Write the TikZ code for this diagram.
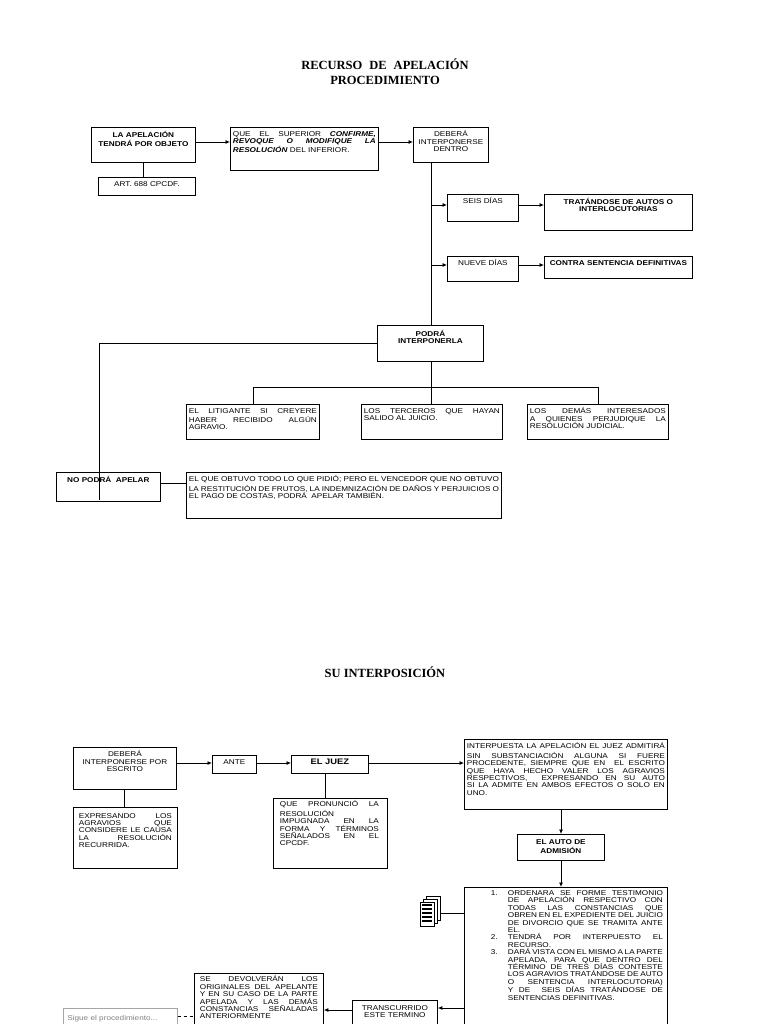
\documentclass[tikz,border=0pt]{standalone}
\usepackage{fontspec}
\setmainfont[FakeStretch=1.17]{Liberation Sans}
\newfontfamily\serifb{Liberation Serif}
\usetikzlibrary{arrows.meta}
\newcommand\bx[7]{\node[box] (#1) at (#2,#3) {\parbox[t][\dimexpr#5pt-5pt\relax][t]{\dimexpr#4pt-5pt\relax}{#6\strut#7}};}
\begin{document}
\begin{tikzpicture}[x=1pt,y=-1pt,
  box/.style={draw,line width=0.8pt,inner sep=2.5pt,anchor=north west,font=\fontsize{7}{7.4}\selectfont},
  ln/.style={line width=0.8pt},
  arr/.style={line width=0.8pt,-{Latex[length=4.5pt,width=4pt]}},
  ttl/.style={font=\serifb\bfseries\fontsize{12.5}{15}\selectfont,align=center}]
\useasboundingbox (0,0) rectangle (768,1024);
\clip (0,0) rectangle (768,1024);
\hyphenpenalty=10000 \emergencystretch=20pt
\node[ttl] (t1) at (385,72) {RECURSO\hspace{7pt}DE\hspace{7pt}APELACIÓN\\PROCEDIMIENTO};
% top part
\bx{a}{91}{127}{104}{35}{\centering\bfseries\vspace{1pt}}{LA APELACIÓN\\TENDRÁ POR OBJETO}
\bx{art}{98}{177}{97}{18}{\centering\vspace{1pt}}{ART. 688 CPCDF.}
\bx{b}{230}{127}{148}{43}{\vspace{1pt}}{QUE EL SUPERIOR \textbf{\textit{CONFIRME, REVOQUE O MODIFIQUE LA RESOLUCIÓN}} DEL INFERIOR.}
\bx{c}{413}{127}{75}{35}{\centering\vspace{1pt}}{DEBERÁ\\INTERPONERSE\\DENTRO}
\bx{seis}{447}{194}{71}{27}{\centering\vspace{1pt}}{SEIS DÍAS}
\bx{trat}{544}{194}{148}{36}{\centering\bfseries\vspace{1pt}}{TRATÁNDOSE DE AUTOS O\\INTERLOCUTORIAS}
\bx{nueve}{447}{256}{71}{25}{\centering\vspace{1pt}}{NUEVE DÍAS}
\bx{contra}{544}{256}{148}{22}{\centering\bfseries\vspace{1pt}}{CONTRA SENTENCIA DEFINITIVAS}
\bx{podra}{377}{325}{106}{36}{\centering\bfseries\vspace{2pt}}{PODRÁ\\INTERPONERLA}
\bx{lit}{186}{404}{133}{35}{\vspace{1pt}}{EL LITIGANTE SI CREYERE HABER RECIBIDO ALGÚN AGRAVIO.}
\bx{ter}{361}{404}{141}{35}{\vspace{1pt}}{LOS TERCEROS QUE HAYAN SALIDO AL JUICIO.}
\bx{dem}{527}{404}{141}{35}{\vspace{1pt}}{LOS DEMÁS INTERESADOS A QUIENES PERJUDIQUE LA RESOLUCIÓN JUDICIAL.}
\bx{nop}{56}{472}{104}{29}{\centering\bfseries\vspace{1pt}}{NO PODRÁ\ \ APELAR}
\bx{elq}{186}{472}{315}{46}{\vspace{1pt}}{EL QUE OBTUVO TODO LO QUE PIDIÓ; PERO EL VENCEDOR QUE NO OBTUVO LA RESTITUCIÓN DE FRUTOS, LA INDEMNIZACIÓN DE DAÑOS Y PERJUICIOS O EL PAGO DE COSTAS, PODRÁ\ \ APELAR TAMBIÉN.}
\coordinate (v) at (431,0);
\coordinate (l) at (99,0);
\draw[ln] (a.south) -- (art.north -| a.south);
\draw[arr] (a.east |- 0,142) -- (b.west |- 0,142);
\draw[arr] (b.east |- 0,142) -- (c.west |- 0,142);
\draw[ln] (v |- c.south) -- (v |- podra.north);
\draw[arr] (v |- 0,205) -- (seis.west |- 0,205);
\draw[arr] (v |- 0,265) -- (nueve.west |- 0,265);
\draw[arr] (seis.east |- 0,205) -- (trat.west |- 0,205);
\draw[arr] (nueve.east |- 0,265) -- (contra.west |- 0,265);
\draw[ln] (podra.west |- 0,343) -- (l |- 0,343) -- (l |- 0,500);
\draw[ln] (v |- podra.south) -- (v |- ter.north);
\draw[ln] (lit.north |- 0,387) -- (dem.north |- 0,387);
\draw[ln] (lit.north |- 0,387) -- (lit.north);
\draw[ln] (dem.north |- 0,387) -- (dem.north);
\draw[ln] (nop.east |- 0,483) -- (elq.west |- 0,483);
% second part
\node[ttl] (t2) at (385,672) {SU INTERPOSICIÓN};
\bx{deb}{73}{747}{103}{42}{\centering\vspace{1pt}}{DEBERÁ\\INTERPONERSE POR\\ESCRITO}
\bx{ante}{212}{755}{44}{18}{\centering\vspace{1pt}}{ANTE}
\bx{juez}{291}{755}{77}{18}{\centering\bfseries\fontsize{8}{8}\selectfont\vspace{1pt}}{EL JUEZ}
\bx{inter}{464}{739}{203}{70}{\vspace{1pt}}{INTERPUESTA LA APELACIÓN EL JUEZ ADMITIRÁ SIN SUBSTANCIACIÓN ALGUNA SI FUERE PROCEDENTE, SIEMPRE QUE EN\ \ EL ESCRITO QUE HAYA HECHO VALER LOS AGRAVIOS RESPECTIVOS,\ \ EXPRESANDO EN SU AUTO SI LA ADMITE EN AMBOS EFECTOS O SOLO EN UNO.}
\bx{expr}{73}{807}{104}{61}{\vspace{3pt}\leftskip=3pt\rightskip=3pt}{EXPRESANDO LOS AGRAVIOS QUE CONSIDERE LE CAUSA LA RESOLUCIÓN RECURRIDA.}
\bx{pron}{273}{798}{114}{70}{\leftskip=4pt\rightskip=6pt}{QUE PRONUNCIÓ LA RESOLUCIÓN\\ IMPUGNADA EN LA FORMA Y TÉRMINOS SEÑALADOS EN EL CPCDF.}
\bx{auto}{517}{834}{87}{26}{\centering\bfseries\vspace{2pt}}{EL AUTO DE\\ADMISIÓN}
\bx{lista}{464}{887}{203}{160}{\leftskip=41pt\rightskip=2pt\vspace{-7pt}}{\par
\noindent\llap{\makebox[17pt][l]{1.}}ORDENARA SE FORME TESTIMONIO DE APELACIÓN RESPECTIVO CON TODAS LAS CONSTANCIAS QUE OBREN EN EL EXPEDIENTE DEL JUICIO DE DIVORCIO QUE SE TRAMITA ANTE\ \ EL.\par
\noindent\llap{\makebox[17pt][l]{2.}}TENDRÁ POR INTERPUESTO EL RECURSO.\par
\noindent\llap{\makebox[17pt][l]{3.}}DARÁ VISTA CON EL MISMO A LA PARTE APELADA, PARA QUE DENTRO DEL TÉRMINO DE TRES DÍAS CONTESTE LOS AGRAVIOS TRATÁNDOSE DE AUTO O SENTENCIA INTERLOCUTORIA) Y DE\ \ SEIS DÍAS TRATÁNDOSE DE SENTENCIAS DEFINITIVAS.}
\bx{trans}{352}{1000}{85}{40}{\centering\vspace{2pt}}{TRANSCURRIDO\\ESTE TERMINO}
\bx{sedev}{194}{973}{129}{70}{\leftskip=3pt\rightskip=3pt}{SE DEVOLVERÁN LOS ORIGINALES DEL APELANTE Y EN SU CASO DE LA PARTE APELADA Y LAS DEMÁS CONSTANCIAS SEÑALADAS ANTERIORMENTE}
\node[box,draw=gray!70,line width=0.5pt,text=gray,minimum width=114pt,minimum height=20pt,align=left,text width=106pt,inner sep=4pt] (sigue) at (63,1008) {Sigue el procedimiento...};
% icon
\node[draw,fill=white,line width=0.6pt,minimum width=14pt,minimum height=24pt,inner sep=0] (ic3) at (433,908) {};
\node[draw,fill=white,line width=0.6pt,minimum width=14pt,minimum height=24pt,inner sep=0] (ic2) at (430,911) {};
\node[draw,fill=white,line width=0.6pt,minimum width=14pt,minimum height=24pt,inner sep=0] (icon) at (427,914) {};
\foreach \yy in {905,909,913,917,921} \draw[line width=1.3pt] (422,\yy) -- (432,\yy);
\draw[ln] (ic3.east |- 0,913) -- (lista.west |- 0,913);
\draw[arr] (deb.east |- 0,763) -- (ante.west |- 0,763);
\draw[arr] (ante.east |- 0,763) -- (juez.west |- 0,763);
\draw[arr] (juez.east |- 0,763) -- (inter.west |- 0,763);
\draw[ln] (deb.south -| 124,0) -- (expr.north -| 124,0);
\draw[ln] (juez.south -| 325,0) -- (pron.north -| 325,0);
\draw[arr] (inter.south -| 561,0) -- (auto.north -| 561,0);
\draw[arr] (auto.south -| 561,0) -- (lista.north -| 561,0);
\draw[arr] (lista.west |- 0,1008) -- (trans.east |- 0,1008);
\draw[arr] (trans.west |- 0,1010) -- (sedev.east |- 0,1010);
\draw[dashed,line width=0.6pt] (sigue.east |- 0,1016) -- (sedev.west |- 0,1016);
\end{tikzpicture}
\end{document}
